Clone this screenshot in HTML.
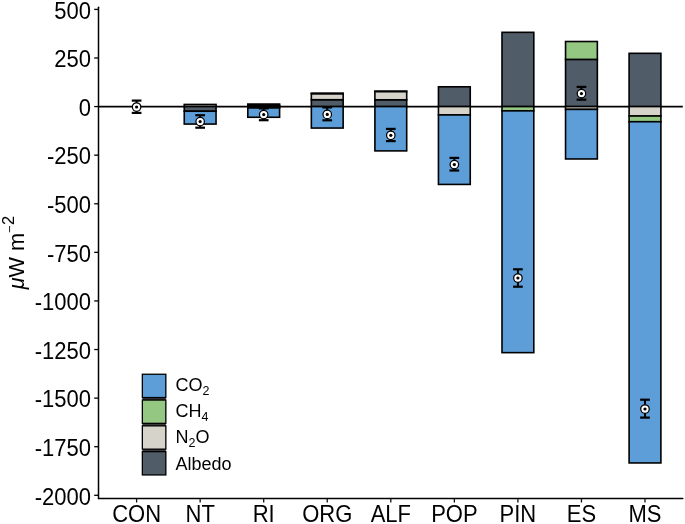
<!DOCTYPE html><html><head><meta charset="utf-8"><style>html,body{margin:0;padding:0;background:#fff;}svg{display:block;}text{font-family:"Liberation Sans",Arial,sans-serif;fill:#000;}</style></head><body>
<svg width="685" height="524" viewBox="0 0 685 524">
<rect x="0" y="0" width="685" height="524" fill="#fff"/>
<line x1="98.5" x2="682.8" y1="106.7" y2="106.7" stroke="#000" stroke-width="1.7"/>
<rect x="184.25" y="104.44" width="31.80" height="2.14" fill="#d6d3cb" stroke="#000" stroke-width="1.6"/>
<rect x="184.25" y="106.58" width="31.80" height="4.66" fill="#515c69" stroke="#000" stroke-width="1.6"/>
<rect x="184.25" y="111.24" width="31.80" height="12.83" fill="#5d9ed8" stroke="#000" stroke-width="1.6"/>
<rect x="247.80" y="105.41" width="31.80" height="1.17" fill="#515c69" stroke="#000" stroke-width="1.6"/>
<rect x="247.80" y="104.05" width="31.80" height="1.36" fill="#d6d3cb" stroke="#000" stroke-width="1.6"/>
<rect x="247.80" y="106.58" width="31.80" height="1.36" fill="#515c69" stroke="#000" stroke-width="1.6"/>
<rect x="247.80" y="107.94" width="31.80" height="9.33" fill="#5d9ed8" stroke="#000" stroke-width="1.6"/>
<rect x="311.35" y="99.70" width="31.80" height="6.88" fill="#515c69" stroke="#000" stroke-width="1.6"/>
<rect x="311.35" y="93.66" width="31.80" height="6.04" fill="#d6d3cb" stroke="#000" stroke-width="1.6"/>
<rect x="311.35" y="93.17" width="31.80" height="0.49" fill="#94c782" stroke="#000" stroke-width="1.6"/>
<rect x="311.35" y="106.58" width="31.80" height="21.48" fill="#5d9ed8" stroke="#000" stroke-width="1.6"/>
<rect x="374.90" y="99.78" width="31.80" height="6.80" fill="#515c69" stroke="#000" stroke-width="1.6"/>
<rect x="374.90" y="91.50" width="31.80" height="8.28" fill="#d6d3cb" stroke="#000" stroke-width="1.6"/>
<rect x="374.90" y="91.13" width="31.80" height="0.37" fill="#94c782" stroke="#000" stroke-width="1.6"/>
<rect x="374.90" y="106.58" width="31.80" height="44.31" fill="#5d9ed8" stroke="#000" stroke-width="1.6"/>
<rect x="438.45" y="86.79" width="31.80" height="19.79" fill="#515c69" stroke="#000" stroke-width="1.6"/>
<rect x="438.45" y="106.58" width="31.80" height="8.36" fill="#d6d3cb" stroke="#000" stroke-width="1.6"/>
<rect x="438.45" y="114.94" width="31.80" height="69.48" fill="#5d9ed8" stroke="#000" stroke-width="1.6"/>
<rect x="502.00" y="32.33" width="31.80" height="74.25" fill="#515c69" stroke="#000" stroke-width="1.6"/>
<rect x="502.00" y="106.58" width="31.80" height="4.28" fill="#94c782" stroke="#000" stroke-width="1.6"/>
<rect x="502.00" y="110.86" width="31.80" height="241.78" fill="#5d9ed8" stroke="#000" stroke-width="1.6"/>
<rect x="565.55" y="59.39" width="31.80" height="47.19" fill="#515c69" stroke="#000" stroke-width="1.6"/>
<rect x="565.55" y="41.51" width="31.80" height="17.88" fill="#94c782" stroke="#000" stroke-width="1.6"/>
<rect x="565.55" y="106.58" width="31.80" height="2.82" fill="#d6d3cb" stroke="#000" stroke-width="1.6"/>
<rect x="565.55" y="109.40" width="31.80" height="49.56" fill="#5d9ed8" stroke="#000" stroke-width="1.6"/>
<rect x="629.10" y="53.33" width="31.80" height="53.25" fill="#515c69" stroke="#000" stroke-width="1.6"/>
<rect x="629.10" y="106.58" width="31.80" height="9.43" fill="#d6d3cb" stroke="#000" stroke-width="1.6"/>
<rect x="629.10" y="116.01" width="31.80" height="5.73" fill="#94c782" stroke="#000" stroke-width="1.6"/>
<rect x="629.10" y="121.74" width="31.80" height="341.20" fill="#5d9ed8" stroke="#000" stroke-width="1.6"/>
<line x1="136.60" x2="136.60" y1="100.60" y2="112.90" stroke="#000" stroke-width="2.0"/>
<line x1="131.75" x2="141.45" y1="100.60" y2="100.60" stroke="#000" stroke-width="2.2"/>
<line x1="131.75" x2="141.45" y1="112.90" y2="112.90" stroke="#000" stroke-width="2.2"/>
<circle cx="136.60" cy="107.00" r="4.25" fill="#fff" stroke="#000" stroke-width="1.25"/>
<circle cx="136.60" cy="107.00" r="1.6" fill="#000"/>
<line x1="200.15" x2="200.15" y1="115.20" y2="127.70" stroke="#000" stroke-width="2.0"/>
<line x1="195.30" x2="205.00" y1="115.20" y2="115.20" stroke="#000" stroke-width="2.2"/>
<line x1="195.30" x2="205.00" y1="127.70" y2="127.70" stroke="#000" stroke-width="2.2"/>
<circle cx="200.15" cy="121.60" r="4.25" fill="#fff" stroke="#000" stroke-width="1.25"/>
<circle cx="200.15" cy="121.60" r="1.6" fill="#000"/>
<line x1="263.70" x2="263.70" y1="108.40" y2="120.20" stroke="#000" stroke-width="2.0"/>
<line x1="258.85" x2="268.55" y1="108.40" y2="108.40" stroke="#000" stroke-width="2.2"/>
<line x1="258.85" x2="268.55" y1="120.20" y2="120.20" stroke="#000" stroke-width="2.2"/>
<circle cx="263.70" cy="114.60" r="4.25" fill="#fff" stroke="#000" stroke-width="1.25"/>
<circle cx="263.70" cy="114.60" r="1.6" fill="#000"/>
<line x1="327.25" x2="327.25" y1="107.40" y2="120.30" stroke="#000" stroke-width="2.0"/>
<line x1="322.40" x2="332.10" y1="107.40" y2="107.40" stroke="#000" stroke-width="2.2"/>
<line x1="322.40" x2="332.10" y1="120.30" y2="120.30" stroke="#000" stroke-width="2.2"/>
<circle cx="327.25" cy="114.40" r="4.25" fill="#fff" stroke="#000" stroke-width="1.25"/>
<circle cx="327.25" cy="114.40" r="1.6" fill="#000"/>
<line x1="390.80" x2="390.80" y1="128.90" y2="141.10" stroke="#000" stroke-width="2.0"/>
<line x1="385.95" x2="395.65" y1="128.90" y2="128.90" stroke="#000" stroke-width="2.2"/>
<line x1="385.95" x2="395.65" y1="141.10" y2="141.10" stroke="#000" stroke-width="2.2"/>
<circle cx="390.80" cy="135.30" r="4.25" fill="#fff" stroke="#000" stroke-width="1.25"/>
<circle cx="390.80" cy="135.30" r="1.6" fill="#000"/>
<line x1="454.35" x2="454.35" y1="157.90" y2="170.50" stroke="#000" stroke-width="2.0"/>
<line x1="449.50" x2="459.20" y1="157.90" y2="157.90" stroke="#000" stroke-width="2.2"/>
<line x1="449.50" x2="459.20" y1="170.50" y2="170.50" stroke="#000" stroke-width="2.2"/>
<circle cx="454.35" cy="164.60" r="4.25" fill="#fff" stroke="#000" stroke-width="1.25"/>
<circle cx="454.35" cy="164.60" r="1.6" fill="#000"/>
<line x1="517.90" x2="517.90" y1="269.30" y2="286.70" stroke="#000" stroke-width="2.0"/>
<line x1="513.05" x2="522.75" y1="269.30" y2="269.30" stroke="#000" stroke-width="2.2"/>
<line x1="513.05" x2="522.75" y1="286.70" y2="286.70" stroke="#000" stroke-width="2.2"/>
<circle cx="517.90" cy="278.00" r="4.25" fill="#fff" stroke="#000" stroke-width="1.25"/>
<circle cx="517.90" cy="278.00" r="1.6" fill="#000"/>
<line x1="581.45" x2="581.45" y1="86.90" y2="99.70" stroke="#000" stroke-width="2.0"/>
<line x1="576.60" x2="586.30" y1="86.90" y2="86.90" stroke="#000" stroke-width="2.2"/>
<line x1="576.60" x2="586.30" y1="99.70" y2="99.70" stroke="#000" stroke-width="2.2"/>
<circle cx="581.45" cy="93.60" r="4.25" fill="#fff" stroke="#000" stroke-width="1.25"/>
<circle cx="581.45" cy="93.60" r="1.6" fill="#000"/>
<line x1="645.00" x2="645.00" y1="399.70" y2="417.60" stroke="#000" stroke-width="2.0"/>
<line x1="640.15" x2="649.85" y1="399.70" y2="399.70" stroke="#000" stroke-width="2.2"/>
<line x1="640.15" x2="649.85" y1="417.60" y2="417.60" stroke="#000" stroke-width="2.2"/>
<circle cx="645.00" cy="409.00" r="4.25" fill="#fff" stroke="#000" stroke-width="1.25"/>
<circle cx="645.00" cy="409.00" r="1.6" fill="#000"/>
<line x1="98.5" x2="98.5" y1="7.2" y2="498.5" stroke="#000" stroke-width="1.5" stroke-linecap="round"/>
<line x1="98.5" x2="682.8" y1="498.5" y2="498.5" stroke="#000" stroke-width="1.5" stroke-linecap="round"/>
<line x1="94.2" x2="98.5" y1="9.40" y2="9.40" stroke="#000" stroke-width="1.3"/>
<text transform="translate(91,18.60) scale(1,1.07)" font-size="22" text-anchor="end">500</text>
<line x1="94.2" x2="98.5" y1="57.99" y2="57.99" stroke="#000" stroke-width="1.3"/>
<text transform="translate(91,67.19) scale(1,1.07)" font-size="22" text-anchor="end">250</text>
<line x1="94.2" x2="98.5" y1="106.58" y2="106.58" stroke="#000" stroke-width="1.3"/>
<text transform="translate(91,115.78) scale(1,1.07)" font-size="22" text-anchor="end">0</text>
<line x1="94.2" x2="98.5" y1="155.17" y2="155.17" stroke="#000" stroke-width="1.3"/>
<text transform="translate(91,164.37) scale(1,1.07)" font-size="22" text-anchor="end">-250</text>
<line x1="94.2" x2="98.5" y1="203.76" y2="203.76" stroke="#000" stroke-width="1.3"/>
<text transform="translate(91,212.96) scale(1,1.07)" font-size="22" text-anchor="end">-500</text>
<line x1="94.2" x2="98.5" y1="252.35" y2="252.35" stroke="#000" stroke-width="1.3"/>
<text transform="translate(91,261.55) scale(1,1.07)" font-size="22" text-anchor="end">-750</text>
<line x1="94.2" x2="98.5" y1="300.94" y2="300.94" stroke="#000" stroke-width="1.3"/>
<text transform="translate(91,310.14) scale(1,1.07)" font-size="22" text-anchor="end">-1000</text>
<line x1="94.2" x2="98.5" y1="349.53" y2="349.53" stroke="#000" stroke-width="1.3"/>
<text transform="translate(91,358.73) scale(1,1.07)" font-size="22" text-anchor="end">-1250</text>
<line x1="94.2" x2="98.5" y1="398.12" y2="398.12" stroke="#000" stroke-width="1.3"/>
<text transform="translate(91,407.32) scale(1,1.07)" font-size="22" text-anchor="end">-1500</text>
<line x1="94.2" x2="98.5" y1="446.71" y2="446.71" stroke="#000" stroke-width="1.3"/>
<text transform="translate(91,455.91) scale(1,1.07)" font-size="22" text-anchor="end">-1750</text>
<line x1="94.2" x2="98.5" y1="495.30" y2="495.30" stroke="#000" stroke-width="1.3"/>
<text transform="translate(91,504.50) scale(1,1.07)" font-size="22" text-anchor="end">-2000</text>
<line x1="136.60" x2="136.60" y1="498.5" y2="502.5" stroke="#111" stroke-width="1.3"/>
<text transform="translate(136.60,522.4) scale(1,1.07)" font-size="22" text-anchor="middle">CON</text>
<line x1="200.15" x2="200.15" y1="498.5" y2="502.5" stroke="#111" stroke-width="1.3"/>
<text transform="translate(200.15,522.4) scale(1,1.07)" font-size="22" text-anchor="middle">NT</text>
<line x1="263.70" x2="263.70" y1="498.5" y2="502.5" stroke="#111" stroke-width="1.3"/>
<text transform="translate(263.70,522.4) scale(1,1.07)" font-size="22" text-anchor="middle">RI</text>
<line x1="327.25" x2="327.25" y1="498.5" y2="502.5" stroke="#111" stroke-width="1.3"/>
<text transform="translate(327.25,522.4) scale(1,1.07)" font-size="22" text-anchor="middle">ORG</text>
<line x1="390.80" x2="390.80" y1="498.5" y2="502.5" stroke="#111" stroke-width="1.3"/>
<text transform="translate(390.80,522.4) scale(1,1.07)" font-size="22" text-anchor="middle">ALF</text>
<line x1="454.35" x2="454.35" y1="498.5" y2="502.5" stroke="#111" stroke-width="1.3"/>
<text transform="translate(454.35,522.4) scale(1,1.07)" font-size="22" text-anchor="middle">POP</text>
<line x1="517.90" x2="517.90" y1="498.5" y2="502.5" stroke="#111" stroke-width="1.3"/>
<text transform="translate(517.90,522.4) scale(1,1.07)" font-size="22" text-anchor="middle">PIN</text>
<line x1="581.45" x2="581.45" y1="498.5" y2="502.5" stroke="#111" stroke-width="1.3"/>
<text transform="translate(581.45,522.4) scale(1,1.07)" font-size="22" text-anchor="middle">ES</text>
<line x1="645.00" x2="645.00" y1="498.5" y2="502.5" stroke="#111" stroke-width="1.3"/>
<text transform="translate(645.00,522.4) scale(1,1.07)" font-size="22" text-anchor="middle">MS</text>
<text transform="translate(23.9,252.6) rotate(-90)" font-size="21.7" text-anchor="middle"><tspan font-style="italic">μ</tspan>W m<tspan dy="-10.3" font-size="12.5">−</tspan><tspan font-size="16.5" dx="0.6">2</tspan></text>
<rect x="142.35" y="374.5" width="23.5" height="100" fill="#3a3a3a"/>
<rect x="142.35" y="374.25" width="23.5" height="23.3" fill="#5d9ed8" stroke="#000" stroke-width="1.3"/>
<text x="175.5" y="390.80" font-size="18">CO<tspan font-size="12.5" dy="3.9">2</tspan></text>
<rect x="142.35" y="400.05" width="23.5" height="23.3" fill="#94c782" stroke="#000" stroke-width="1.3"/>
<text x="175.5" y="417.10" font-size="18">CH<tspan font-size="12.5" dy="3.9">4</tspan></text>
<rect x="142.35" y="425.85" width="23.5" height="23.3" fill="#d6d3cb" stroke="#000" stroke-width="1.3"/>
<text x="175.5" y="443.40" font-size="18">N<tspan font-size="12.5" dy="3.9">2</tspan><tspan dy="-3.9">O</tspan></text>
<rect x="142.35" y="451.65" width="23.5" height="23.3" fill="#515c69" stroke="#000" stroke-width="1.3"/>
<text x="175.5" y="469.70" font-size="18">Albedo</text>
</svg></body></html>
